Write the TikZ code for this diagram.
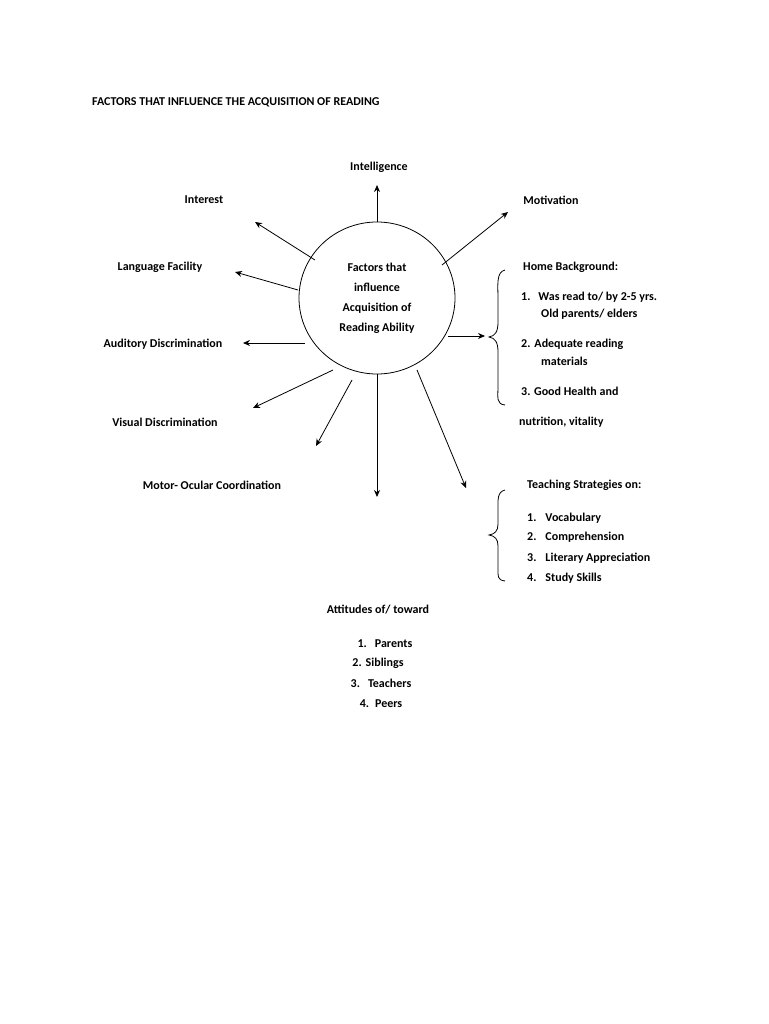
\documentclass[tikz,border=0pt]{standalone}
\usepackage{fontspec}
\setmainfont{Carlito}
\usetikzlibrary{arrows.meta,shapes.geometric}
\begin{document}
\begin{tikzpicture}[x=1pt,y=-1pt,
  every node/.style={font=\fontsize{12}{14}\selectfont\bfseries,inner sep=0pt},
  arr/.style={-{Stealth[length=7pt,width=6pt]},line width=0.8pt},
  lab/.style={anchor=west}]
\useasboundingbox[fill=white] (0,0) rectangle (768,1024);
\node[anchor=west] (title) at (92,102) {FACTORS THAT INFLUENCE THE ACQUISITION OF READING};
\node[ellipse,draw,line width=0.8pt,minimum width=156pt,minimum height=152pt] (c) at (377,298) {};
\node[align=center,font=\fontsize{12}{20}\selectfont\bfseries] (ct) at (377,298) {Factors that\\influence\\Acquisition of\\Reading Ability};
\coordinate (aI) at (377,185); \coordinate (aM) at (508,212); \coordinate (aIn) at (255,222);
\coordinate (aL) at (235,272); \coordinate (aA) at (243,343); \coordinate (aV) at (253,408);
\coordinate (aMo) at (316,446); \coordinate (aD) at (377,497); \coordinate (aDR) at (466,488);
\coordinate (aR) at (485,336);
\draw[arr] (c.north) -- (aI);
\draw[arr] (442,265) -- (aM);
\draw[arr] (315,260) -- (aIn);
\draw[arr] (298,290) -- (aL);
\draw[arr] (305,343) -- (aA);
\draw[arr] (333,370) -- (aV);
\draw[arr] (352,380) -- (aMo);
\draw[arr] (c.south) -- (aD);
\draw[arr] (417,370) -- (aDR);
\draw[arr] (448,336) -- (aR);
\node (intel) at (379,167) {Intelligence};
\node (interest) at (204,200) {Interest};
\node (motiv) at (551,200) {Motivation};
\node (lang) at (160,267) {Language Facility};
\node (aud) at (163,344) {Auditory Discrimination};
\node (vis) at (165,422) {Visual Discrimination};
\node (motor) at (212,485) {Motor- Ocular Coordination};
\node[lab] (hb) at (523,267) {Home Background:};
\node[lab] (h1) at (521,297) {1.\hspace{8pt}Was read to/ by 2-5 yrs.};
\node[lab] (h1b) at (541,314) {Old parents/ elders};
\node[lab] (h2) at (521,344) {2.\hspace{4pt}Adequate reading};
\node[lab] (h2b) at (541,361) {materials};
\node[lab] (h3) at (521,391) {3. Good Health and};
\node[lab] (h3b) at (519,422) {nutrition, vitality};
\draw[line width=0.8pt] (505,270) .. controls (496,272) and (498,285) .. (498,300) -- (498,322) .. controls (498,332) and (495,336) .. (489,337) .. controls (495,338) and (498,342) .. (498,352) -- (498,385) .. controls (498,398) and (496,404) .. (505,405);
\node[lab] (ts) at (527,485) {Teaching Strategies on:};
\node[lab] (t1) at (527,518) {1.\hspace{9pt}Vocabulary};
\node[lab] (t2) at (527,537) {2.\hspace{9pt}Comprehension};
\node[lab] (t3) at (527,558) {3.\hspace{9pt}Literary Appreciation};
\node[lab] (t4) at (527,578) {4.\hspace{9pt}Study Skills};
\draw[line width=0.8pt] (505,490) .. controls (497,492) and (498,500) .. (498,510) -- (498,524) .. controls (498,531) and (495,534) .. (489,535) .. controls (495,536) and (498,539) .. (498,546) -- (498,568) .. controls (498,576) and (497,580) .. (505,581);
\node (att) at (378,610) {Attitudes of/ toward};
\node (p1) at (385,644) {1.\hspace{8pt}Parents};
\node (p2) at (378,663) {2.\hspace{4pt}Siblings};
\node (p3) at (381,683) {3.\hspace{8pt}Teachers};
\node (p4) at (381,704) {4.\hspace{6pt}Peers};
\end{tikzpicture}
\end{document}
